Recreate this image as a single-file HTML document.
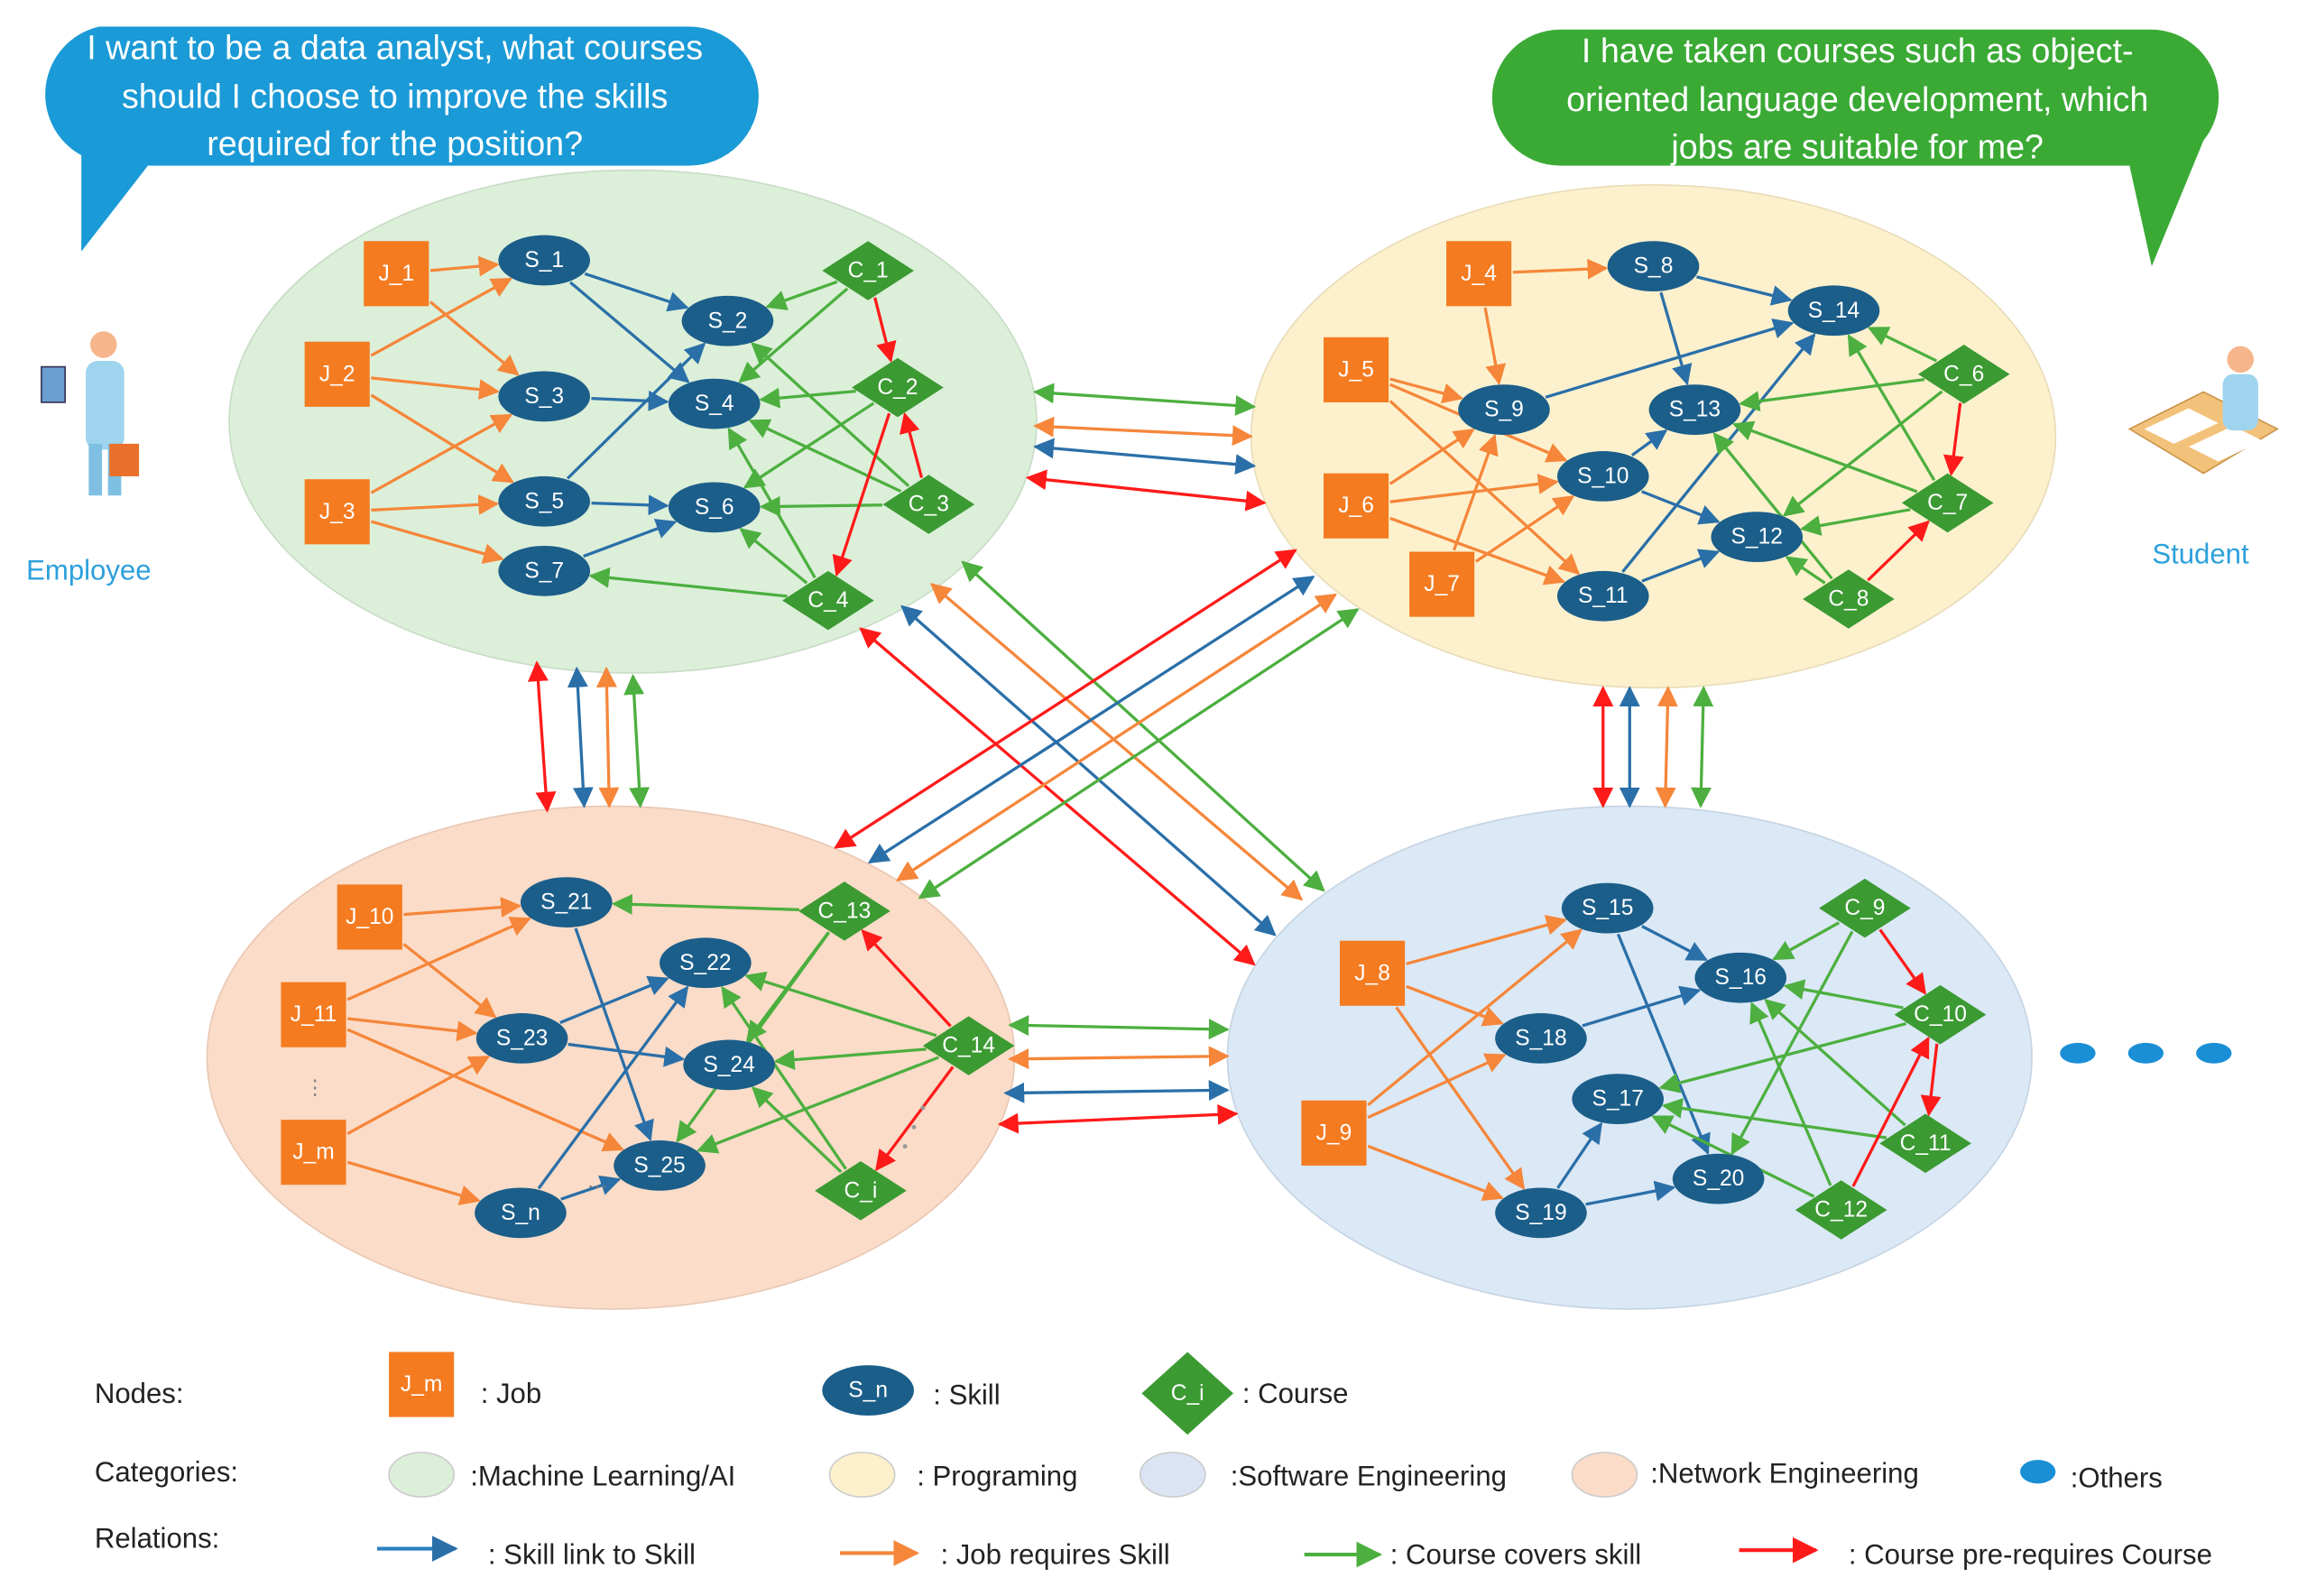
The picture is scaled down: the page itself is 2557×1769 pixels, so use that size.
<!DOCTYPE html>
<html><head><meta charset="utf-8"><style>
html,body{margin:0;padding:0;background:#fff}
svg{display:block}
text{font-family:"Liberation Sans",sans-serif}
.nl{font-size:15px;fill:#fff;text-anchor:middle;dominant-baseline:central}
.lg{font-size:19px;fill:#222;dominant-baseline:central}
.bb{font-size:23px;fill:#fff;text-anchor:middle}
</style></head><body>
<svg id="s" width="2557" height="1769" viewBox="0 0 1560 1079" preserveAspectRatio="none" xmlns="http://www.w3.org/2000/svg">
<defs>
<marker id="m0" viewBox="0 0 10 10" refX="9" refY="5" markerWidth="7" markerHeight="7" orient="auto-start-reverse"><path d="M0,0L10,5L0,10z" fill="#2a6fa8"/></marker>
<marker id="m1" viewBox="0 0 10 10" refX="9" refY="5" markerWidth="7" markerHeight="7" orient="auto-start-reverse"><path d="M0,0L10,5L0,10z" fill="#f5863a"/></marker>
<marker id="m2" viewBox="0 0 10 10" refX="9" refY="5" markerWidth="7" markerHeight="7" orient="auto-start-reverse"><path d="M0,0L10,5L0,10z" fill="#4caf3f"/></marker>
<marker id="m3" viewBox="0 0 10 10" refX="9" refY="5" markerWidth="7" markerHeight="7" orient="auto-start-reverse"><path d="M0,0L10,5L0,10z" fill="#ff1a1a"/></marker>
</defs>
<!-- bubbles -->
<path d="M67,18 H466 A47,47 0 0 1 466,112 H100 L55,170 L55,105 A47,47 0 0 1 67,18 Z" fill="#1a9ad6"/>
<text class="bb" x="267" y="40">I want to be a data analyst, what courses</text>
<text class="bb" x="267" y="73">should I choose to improve the skills</text>
<text class="bb" x="267" y="105">required for the position?</text>
<path d="M1055,20 H1455 A46,46 0 0 1 1490,95 L1455,180 L1440,112 H1055 A46,46 0 0 1 1055,20 Z" fill="#3aaa35"/>
<text class="bb" x="1256" y="42">I have taken courses such as object-</text>
<text class="bb" x="1256" y="75">oriented language development, which</text>
<text class="bb" x="1256" y="107">jobs are suitable for me?</text>
<!-- category ellipses -->
<ellipse cx="428" cy="285" rx="273" ry="170" fill="#dcefd9" stroke="#c8dcc6"/>
<ellipse cx="1118" cy="295" rx="272" ry="170" fill="#fdf1cd" stroke="#e8dcb8"/>
<ellipse cx="413" cy="715" rx="273" ry="170" fill="#fbdcc8" stroke="#e8c8b4"/>
<ellipse cx="1102" cy="715" rx="272" ry="170" fill="#dbe8f5" stroke="#c6d4e2"/>
<!-- people -->
<g>
<circle cx="70" cy="233" r="9" fill="#f6b58a"/>
<rect x="58" y="244" width="26" height="60" rx="8" fill="#9fd4ee"/>
<rect x="60" y="300" width="9" height="35" fill="#7fc0e2"/><rect x="73" y="300" width="9" height="35" fill="#7fc0e2"/>
<rect x="28" y="248" width="16" height="24" fill="#6a9fd0" stroke="#335" stroke-width="1"/>
<rect x="74" y="300" width="20" height="22" fill="#e8702a"/>
<text x="60" y="392" style="font-size:19px;fill:#2ca0dc;text-anchor:middle">Employee</text>
</g>
<g>
<path d="M1440,290 L1490,265 L1540,290 L1490,320 Z" fill="#f3c27a" stroke="#c9954a"/>
<path d="M1450,290 L1480,276 L1500,286 L1470,300 Z" fill="#fff"/>
<path d="M1480,302 L1510,288 L1530,298 L1500,312 Z" fill="#fff"/>
<circle cx="1515" cy="243" r="9" fill="#f6b58a"/>
<rect x="1503" y="253" width="24" height="38" rx="7" fill="#9fd4ee"/>
<text x="1488" y="381" style="font-size:19px;fill:#2ca0dc;text-anchor:middle">Student</text>
</g>
<g id="edges"></g>
<g id="nodes">
<!-- jobs -->
<g fill="#f47b20">
<rect x="246" y="163" width="44" height="44"/><rect x="206" y="231" width="44" height="44"/><rect x="206" y="324" width="44" height="44"/>
<rect x="978" y="163" width="44" height="44"/><rect x="895" y="228" width="44" height="44"/><rect x="895" y="320" width="44" height="44"/><rect x="953" y="373" width="44" height="44"/>
<rect x="228" y="598" width="44" height="44"/><rect x="190" y="664" width="44" height="44"/><rect x="190" y="757" width="44" height="44"/>
<rect x="906" y="636" width="44" height="44"/><rect x="880" y="744" width="44" height="44"/>
<rect x="263" y="914" width="44" height="44"/>
</g>
<g fill="#1b5e8a">
<ellipse cx="368" cy="176" rx="31" ry="17"/><ellipse cx="368" cy="268" rx="31" ry="17"/><ellipse cx="368" cy="339" rx="31" ry="17"/><ellipse cx="368" cy="386" rx="31" ry="17"/>
<ellipse cx="492" cy="217" rx="31" ry="17"/><ellipse cx="483" cy="273" rx="31" ry="17"/><ellipse cx="483" cy="343" rx="31" ry="17"/>
<ellipse cx="1118" cy="180" rx="31" ry="17"/><ellipse cx="1240" cy="210" rx="31" ry="17"/><ellipse cx="1017" cy="277" rx="31" ry="17"/><ellipse cx="1146" cy="277" rx="31" ry="17"/><ellipse cx="1084" cy="322" rx="31" ry="17"/><ellipse cx="1188" cy="363" rx="31" ry="17"/><ellipse cx="1084" cy="403" rx="31" ry="17"/>
<ellipse cx="383" cy="610" rx="31" ry="17"/><ellipse cx="477" cy="651" rx="31" ry="17"/><ellipse cx="353" cy="702" rx="31" ry="17"/><ellipse cx="493" cy="720" rx="31" ry="17"/><ellipse cx="446" cy="788" rx="31" ry="17"/><ellipse cx="352" cy="820" rx="31" ry="17"/>
<ellipse cx="1087" cy="614" rx="31" ry="17"/><ellipse cx="1177" cy="661" rx="31" ry="17"/><ellipse cx="1042" cy="702" rx="31" ry="17"/><ellipse cx="1094" cy="743" rx="31" ry="17"/><ellipse cx="1162" cy="797" rx="31" ry="17"/><ellipse cx="1042" cy="820" rx="31" ry="17"/>
<ellipse cx="587" cy="940" rx="31" ry="17"/>
</g>
<g fill="#3b9a32" id="diam"></g>
<g class="nl">
<text class="nl" x="268" y="185">J_1</text><text class="nl" x="228" y="253">J_2</text><text class="nl" x="228" y="346">J_3</text>
<text class="nl" x="1000" y="185">J_4</text><text class="nl" x="917" y="250">J_5</text><text class="nl" x="917" y="342">J_6</text><text class="nl" x="975" y="395">J_7</text>
<text class="nl" x="250" y="620">J_10</text><text class="nl" x="212" y="686">J_11</text><text class="nl" x="212" y="779">J_m</text>
<text class="nl" x="928" y="658">J_8</text><text class="nl" x="902" y="766">J_9</text><text class="nl" x="285" y="936">J_m</text>
<text class="nl" x="368" y="176">S_1</text><text class="nl" x="368" y="268">S_3</text><text class="nl" x="368" y="339">S_5</text><text class="nl" x="368" y="386">S_7</text>
<text class="nl" x="492" y="217">S_2</text><text class="nl" x="483" y="273">S_4</text><text class="nl" x="483" y="343">S_6</text>
<text class="nl" x="1118" y="180">S_8</text><text class="nl" x="1240" y="210">S_14</text><text class="nl" x="1017" y="277">S_9</text><text class="nl" x="1146" y="277">S_13</text><text class="nl" x="1084" y="322">S_10</text><text class="nl" x="1188" y="363">S_12</text><text class="nl" x="1084" y="403">S_11</text>
<text class="nl" x="383" y="610">S_21</text><text class="nl" x="477" y="651">S_22</text><text class="nl" x="353" y="702">S_23</text><text class="nl" x="493" y="720">S_24</text><text class="nl" x="446" y="788">S_25</text><text class="nl" x="352" y="820">S_n</text>
<text class="nl" x="1087" y="614">S_15</text><text class="nl" x="1177" y="661">S_16</text><text class="nl" x="1042" y="702">S_18</text><text class="nl" x="1094" y="743">S_17</text><text class="nl" x="1162" y="797">S_20</text><text class="nl" x="1042" y="820">S_19</text>
<text class="nl" x="587" y="940">S_n</text>
</g>
</g>
<g id="ctext"></g>
<!-- dots -->
<g fill="#1a8fd6"><ellipse cx="1405" cy="712" rx="12" ry="7"/><ellipse cx="1451" cy="712" rx="12" ry="7"/><ellipse cx="1497" cy="712" rx="12" ry="7"/></g>
<text x="213" y="740" style="font-size:14px;fill:#888;text-anchor:middle">⋮</text>
<text x="404" y="806" style="font-size:14px;fill:#777;text-anchor:middle">···</text>
<g fill="#999"><circle cx="612" cy="775" r="1.5"/><circle cx="618" cy="762" r="1.5"/><circle cx="624" cy="749" r="1.5"/></g>
<!-- legend -->
<text class="lg" x="64" y="942">Nodes:</text>
<text class="lg" x="325" y="942">: Job</text>
<text class="lg" x="631" y="943">: Skill</text>
<text class="lg" x="840" y="942">: Course</text>
<text class="lg" x="64" y="995">Categories:</text>
<ellipse cx="285" cy="997" rx="22" ry="15" fill="#dcefd9" stroke="#ccc"/>
<ellipse cx="583" cy="997" rx="22" ry="15" fill="#fdf1cd" stroke="#ccc"/>
<ellipse cx="793" cy="997" rx="22" ry="15" fill="#dbe4f3" stroke="#ccc"/>
<ellipse cx="1085" cy="997" rx="22" ry="15" fill="#fbdcc8" stroke="#ccc"/>
<ellipse cx="1378" cy="995" rx="12" ry="8" fill="#1a8fd6"/>
<text class="lg" x="318" y="998">:Machine Learning/AI</text>
<text class="lg" x="620" y="998">: Programing</text>
<text class="lg" x="832" y="998">:Software Engineering</text>
<text class="lg" x="1116" y="996">:Network Engineering</text>
<text class="lg" x="1400" y="999">:Others</text>
<text class="lg" x="64" y="1040">Relations:</text>
<g stroke-width="2.5">
<line x1="255" y1="1047" x2="308" y2="1047" stroke="#2a7fc0" marker-end="url(#m0)"/>
<line x1="568" y1="1050" x2="620" y2="1050" stroke="#f5863a" marker-end="url(#m1)"/>
<line x1="882" y1="1051" x2="933" y2="1051" stroke="#4caf3f" marker-end="url(#m2)"/>
<line x1="1176" y1="1048" x2="1228" y2="1048" stroke="#ff1a1a" marker-end="url(#m3)"/>
</g>
<text class="lg" x="330" y="1051">: Skill link to Skill</text>
<text class="lg" x="636" y="1051">: Job requires Skill</text>
<text class="lg" x="940" y="1051">: Course covers skill</text>
<text class="lg" x="1250" y="1051">: Course pre-requires Course</text>
<g class="nl">
<text class="nl" x="587" y="183">C_1</text><text class="nl" x="607" y="262">C_2</text><text class="nl" x="628" y="341">C_3</text><text class="nl" x="560" y="406">C_4</text>
<text class="nl" x="1328" y="253">C_6</text><text class="nl" x="1317" y="340">C_7</text><text class="nl" x="1250" y="405">C_8</text>
<text class="nl" x="571" y="616">C_13</text><text class="nl" x="655" y="707">C_14</text><text class="nl" x="582" y="805">C_i</text>
<text class="nl" x="1261" y="614">C_9</text><text class="nl" x="1312" y="686">C_10</text><text class="nl" x="1302" y="773">C_11</text><text class="nl" x="1245" y="818">C_12</text>
</g>
</svg>
<script>
var N={J1:[268,185,'j'],J2:[228,253,'j'],J3:[228,346,'j'],J4:[1000,185,'j'],J5:[917,250,'j'],J6:[917,342,'j'],J7:[975,395,'j'],J10:[250,620,'j'],J11:[212,686,'j'],Jm:[212,779,'j'],J8:[928,658,'j'],J9:[902,766,'j'],
S1:[368,176],S3:[368,268],S5:[368,339],S7:[368,386],S2:[492,217],S4:[483,273],S6:[483,343],S8:[1118,180],S14:[1240,210],S9:[1017,277],S13:[1146,277],S10:[1084,322],S12:[1188,363],S11:[1084,403],
S21:[383,610],S22:[477,651],S23:[353,702],S24:[493,720],S25:[446,788],Sn:[352,820],S15:[1087,614],S16:[1177,661],S18:[1042,702],S17:[1094,743],S20:[1162,797],S19:[1042,820],
C1:[587,183,'c'],C2:[607,262,'c'],C3:[628,341,'c'],C4:[560,406,'c'],C6:[1328,253,'c'],C7:[1317,340,'c'],C8:[1250,405,'c'],C13:[571,616,'c'],C14:[655,707,'c'],Ci:[582,805,'c'],C9:[1261,614,'c'],C10:[1312,686,'c'],C11:[1302,773,'c'],C12:[1245,818,'c'],LC:[803,942,'c']};
var E=[
[1,'J1 S1,J1 S3,J2 S1,J2 S3,J2 S5,J3 S3,J3 S5,J3 S7,J4 S8,J4 S9,J5 S9,J5 S10,J5 S11,J6 S9,J6 S10,J6 S11,J7 S9,J7 S10,J10 S21,J10 S23,J11 S21,J11 S23,J11 S25,Jm S23,Jm Sn,J8 S15,J8 S18,J8 S19,J9 S15,J9 S18,J9 S19'],
[0,'S1 S2,S1 S4,S3 S4,S5 S2,S5 S6,S7 S6,S8 S14,S8 S13,S9 S14,S10 S13,S11 S14,S11 S12,S10 S12,S21 S25,S23 S22,S23 S24,Sn S22,Sn S25,S15 S16,S15 S20,S18 S16,S19 S17,S19 S20'],
[2,'C1 S2,C1 S4,C2 S4,C2 S6,C3 S2,C3 S6,C3 S4,C4 S4,C4 S6,C4 S7,C6 S14,C6 S13,C6 S12,C7 S14,C7 S13,C7 S12,C8 S12,C8 S13,C13 S21,C13 S24,C13 S25,C14 S22,C14 S24,C14 S25,Ci S22,Ci S24,C9 S16,C9 S20,C10 S16,C10 S17,C11 S16,C11 S17,C12 S16,C12 S17'],
[3,'C1 C2,C2 C4,C3 C2,C6 C7,C8 C7,C14 C13,C14 Ci,C9 C10,C10 C11,C12 C10']];
var col=['#2a6fa8','#f5863a','#4caf3f','#ff1a1a'];
function r(n,dx,dy){var L=Math.hypot(dx,dy);dx/=L;dy/=L;if(n[2]=='j')return 23/Math.max(Math.abs(dx),Math.abs(dy));if(n[2]=='c')return 1/(Math.abs(dx)/31+Math.abs(dy)/20)+1;return 1/Math.sqrt(dx*dx/961+dy*dy/289)+1;}
var h='';
E.forEach(function(g){g[1].split(',').forEach(function(p){var a=N[p.split(' ')[0]],b=N[p.split(' ')[1]];var dx=b[0]-a[0],dy=b[1]-a[1],L=Math.hypot(dx,dy),ux=dx/L,uy=dy/L;var ra=r(a,dx,dy),rb=r(b,dx,dy);
h+='<line x1="'+(a[0]+ux*ra)+'" y1="'+(a[1]+uy*ra)+'" x2="'+(b[0]-ux*rb)+'" y2="'+(b[1]-uy*rb)+'" stroke="'+col[g[0]]+'" stroke-width="2" marker-end="url(#m'+g[0]+')"/>';});});
var D=[[2,700,265,848,275],[1,700,288,846,295],[0,700,302,848,315],[3,695,323,855,340],
[3,363,448,370,548],[0,390,452,395,545],[1,410,452,412,545],[2,428,457,433,545],
[3,1084,465,1084,545],[0,1102,465,1102,545],[1,1128,465,1126,545],[2,1152,465,1150,545],
[2,683,693,830,696],[1,683,716,830,714],[0,680,739,830,737],[3,676,760,836,753],
[2,651,380,895,602],[1,630,395,880,608],[0,610,410,862,632],[3,582,425,848,652],
[3,565,573,876,372],[0,588,583,888,390],[1,607,595,903,402],[2,622,607,918,412]];
D.forEach(function(d){h+='<line x1="'+d[1]+'" y1="'+d[2]+'" x2="'+d[3]+'" y2="'+d[4]+'" stroke="'+col[d[0]]+'" stroke-width="2" marker-start="url(#m'+d[0]+')" marker-end="url(#m'+d[0]+')"/>';});
document.getElementById('edges').innerHTML=h;
var dd='';for(var k in N){var n=N[k];if(n[2]=='c'){var w=(k=='LC')?31:31,hh=(k=='LC')?28:20;dd+='<path d="M'+(n[0]-w)+','+n[1]+'L'+n[0]+','+(n[1]-hh)+'L'+(n[0]+w)+','+n[1]+'L'+n[0]+','+(n[1]+hh)+'Z"/>';}}
document.getElementById('diam').innerHTML=dd;
</script>
<svg style="position:absolute;left:0;top:0" width="2557" height="1769" viewBox="0 0 1560 1079" preserveAspectRatio="none"><text class="nl" x="803" y="942" style="font-size:15px;fill:#fff;text-anchor:middle;dominant-baseline:central;font-family:'Liberation Sans',sans-serif">C_i</text></svg>
</body></html>
